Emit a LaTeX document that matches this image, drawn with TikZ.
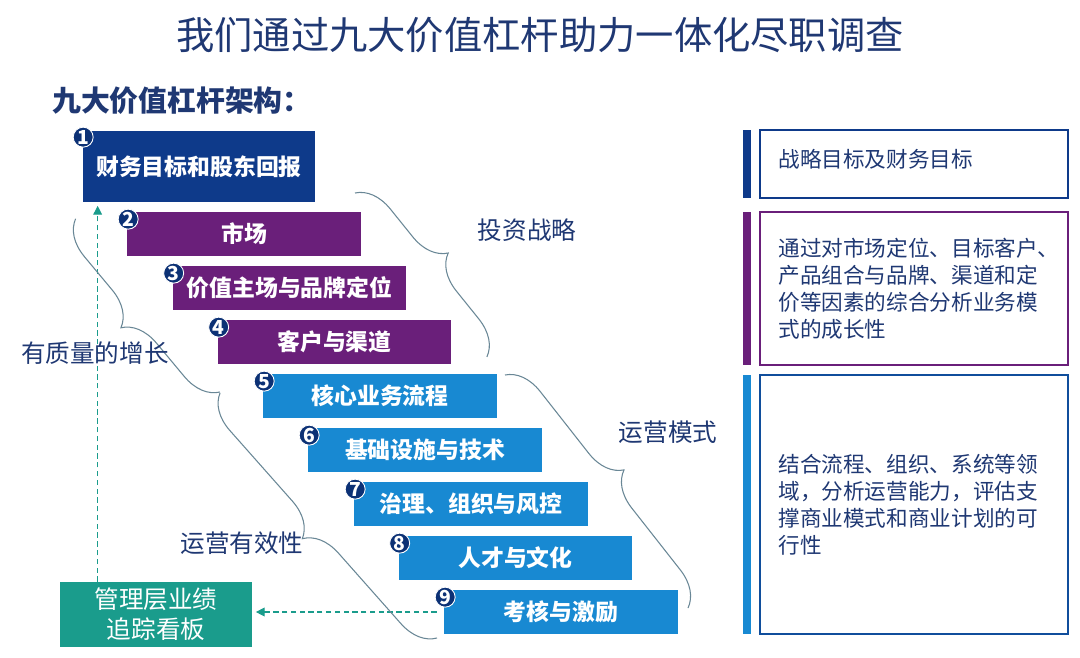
\documentclass[tikz,border=0pt]{standalone}
\usepackage{fontspec}
\setmainfont{Noto Sans CJK SC}
\usetikzlibrary{arrows.meta, calc, decorations.pathreplacing}

\definecolor{navy}{RGB}{14,58,138}
\definecolor{plum}{RGB}{106,31,122}
\definecolor{sky}{RGB}{24,137,210}
\definecolor{boardgreen}{RGB}{26,156,140}
\definecolor{ink}{RGB}{31,56,115}
\definecolor{bracec}{RGB}{105,135,150}

\tikzset{
	lever/.style={minimum width=4.68cm, minimum height=0.88cm, inner sep=0pt, text=white, font=\fontsize{13}{15}\selectfont\bfseries},
	badge/.style={circle, fill=navy!85!black, draw=white, line width=0.5pt, inner sep=0pt, minimum size=0.4cm, text=white, font=\fontsize{11}{11}\selectfont\bfseries},
	flow/.style={densely dashed, boardgreen, line width=0.6pt, -{Triangle[length=5pt,width=5pt]}},
	curly/.style={decorate, decoration={brace, amplitude=0.7cm}, bracec, line width=0.6pt},
	tag/.style={text=ink, font=\fontsize{14}{16}\selectfont},
	panel/.style={minimum width=6.16cm, inner sep=0pt, line width=0.8pt},
	note/.style={anchor=west, align=left, text=ink, font=\fontsize{12.3}{15.3}\selectfont},
}

\begin{document}
\begin{tikzpicture}[x=0.02cm, y=-0.02cm]
	% 画布
	\fill[white] (0,0) rectangle (1080,657);
	\useasboundingbox (0,0) rectangle (1080,657);
	
	% 标题
	\node[text=ink, font=\fontsize{21.8}{26}\selectfont] (title) at (540,35) {我们通过九大价值杠杆助力一体化尽职调查};
	\node[anchor=west, text=ink, font=\fontsize{16.4}{20}\selectfont\bfseries] (sub) at (46,101) {九大价值杠杆架构：};
	
	% 九大价值杠杆
	\node[lever, fill=navy, minimum width=4.64cm, minimum height=1.42cm] (fin) at (199,166.5) {财务目标和股东回报};
	\node[lever, fill=plum] (mkt) at (244,234) {市场};
	\node[lever, fill=plum] (brand) at (289.5,288) {价值主场与品牌定位};
	\node[lever, fill=plum] (chan) at (334.5,342) {客户与渠道};
	\node[lever, fill=sky] (core) at (380,396) {核心业务流程};
	\node[lever, fill=sky] (infra) at (425,450) {基础设施与技术};
	\node[lever, fill=sky] (gov) at (471,504) {治理、组织与风控};
	\node[lever, fill=sky] (talent) at (515.5,558) {人才与文化};
	\node[lever, fill=sky] (kpi) at (561,612) {考核与激励};
	
	% 编号
	\node[badge] (b1) at ([xshift=0.01cm,yshift=-0.13cm]fin.north west) {1};
	\node[badge] (b2) at ([xshift=0.03cm,yshift=-0.15cm]mkt.north west) {2};
	\node[badge] (b3) at ([xshift=0.03cm,yshift=-0.15cm]brand.north west) {3};
	\node[badge] (b4) at ([xshift=0.03cm,yshift=-0.15cm]chan.north west) {4};
	\node[badge] (b5) at ([xshift=0.03cm,yshift=-0.15cm]core.north west) {5};
	\node[badge] (b6) at ([xshift=0.03cm,yshift=-0.15cm]infra.north west) {6};
	\node[badge] (b7) at ([xshift=0.03cm,yshift=-0.15cm]gov.north west) {7};
	\node[badge] (b8) at ([xshift=0.03cm,yshift=-0.15cm]talent.north west) {8};
	\node[badge] (b9) at ([xshift=0.03cm,yshift=-0.15cm]kpi.north west) {9};
	
	% 看板与虚线箭头
	\node[fill=boardgreen, minimum width=3.84cm, minimum height=1.3cm, inner sep=0pt, align=center, text=white, font=\fontsize{14}{17}\selectfont] (board) at (156,614.5) {管理层业绩\\追踪看板};
	\coordinate (up) at ([xshift=0.3cm]fin.south west);
	\draw[flow, shorten >=2pt] (board.north -| up) -- (up);
	\draw[flow, shorten <=4pt, shorten >=2pt] (kpi.west) -- (kpi.west -| board.east);
	
	% 大括号
	\draw[curly] (220,392) -- (75,218);
	\draw[curly] (437,638) -- (220,393);
	\draw[curly] (355,193) -- (487,357);
	\draw[curly] (505,375) -- (688,608);
	\node[tag] (growth) at (95,353) {有质量的增长};
	\node[tag] (effect) at (242,543) {运营有效性};
	\node[tag] (invest) at (527,230) {投资战略};
	\node[tag] (opmode) at (668,432) {运营模式};
	
	% 右侧说明
	\fill[navy] (743,130) rectangle (751,198);
	\fill[plum] (743,212) rectangle (751,365);
	\fill[sky] (743,375) rectangle (751,634);
	\node[panel, draw=navy, minimum height=1.36cm] (p1) at (914,164) {};
	\node[panel, draw=plum, minimum height=3.06cm] (p2) at (914,288.5) {};
	\node[panel, draw=navy!75!sky, minimum height=5.18cm] (p3) at (914,504.5) {};
	\node[note] (t1) at ([xshift=0.26cm,yshift=0.1cm]p1.west) {战略目标及财务目标};
	\node[note] (t2) at ([xshift=0.26cm]p2.west) {通过对市场定位、目标客户、\\产品组合与品牌、渠道和定\\价等因素的综合分析业务模\\式的成长性};
	\node[note] (t3) at ([xshift=0.26cm]p3.west) {结合流程、组织、系统等领\\域，分析运营能力，评估支\\撑商业模式和商业计划的可\\行性};
\end{tikzpicture}
\end{document}
